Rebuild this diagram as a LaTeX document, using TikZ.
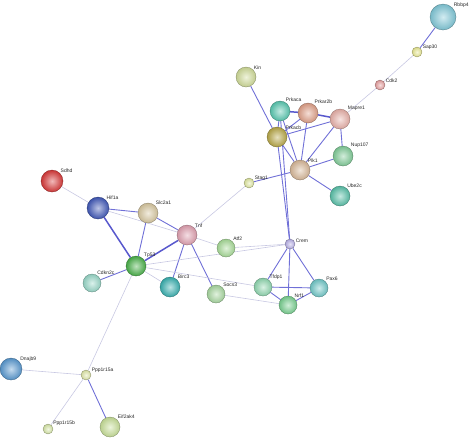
\documentclass[tikz,border=0pt]{standalone}
\usepackage{fontspec}
\setmainfont{Liberation Sans}
\pgfdeclarelayer{bg}
\pgfsetlayers{bg,main}
% protein colours
\definecolor{cRbbp4}{HTML}{80C8D8}
\definecolor{cSap30}{HTML}{E8E890}
\definecolor{cCdk2}{HTML}{E8A0A0}
\definecolor{cMapre1}{HTML}{E8B0A8}
\definecolor{cPrkar2b}{HTML}{E0A088}
\definecolor{cPrkaca}{HTML}{58C8B0}
\definecolor{cPrkacb}{HTML}{B8A848}
\definecolor{cKin}{HTML}{D0DC98}
\definecolor{cNup107}{HTML}{80CC98}
\definecolor{cPlk1}{HTML}{D8B898}
\definecolor{cUbe2c}{HTML}{58C0A8}
\definecolor{cStag1}{HTML}{E0E8A0}
\definecolor{cSdhd}{HTML}{D83838}
\definecolor{cHif1a}{HTML}{4058B8}
\definecolor{cSlc2a1}{HTML}{D8C8A0}
\definecolor{cTnf}{HTML}{E0A0B0}
\definecolor{cAtf2}{HTML}{A8DC98}
\definecolor{cCrem}{HTML}{B8B0E8}
\definecolor{cTp53}{HTML}{48B048}
\definecolor{cCdkn2c}{HTML}{98D8C8}
\definecolor{cBirc3}{HTML}{38B0B0}
\definecolor{cSocs3}{HTML}{A8D8A0}
\definecolor{cTfdp1}{HTML}{90D8B0}
\definecolor{cPax6}{HTML}{70C8C8}
\definecolor{cNrf1}{HTML}{78D090}
\definecolor{cDnajb9}{HTML}{5898D0}
\definecolor{cPpp1r15a}{HTML}{E0E8A8}
\definecolor{cPpp1r15b}{HTML}{D8E8A8}
\definecolor{cEif2ak4}{HTML}{C8E098}
\definecolor{edgehi}{RGB}{88,88,205}
\definecolor{edgemid}{RGB}{112,112,215}
\definecolor{edgelo}{RGB}{200,200,226}
\tikzset{
  prot/.style={circle,inner sep=0pt,shading=radial,inner color=#1!35!white,
    outer color=#1!92!black,draw=#1!60!black,line width=0.3pt},
  sz/.style={minimum size=#1},
  lbl/.style={font=\fontsize{5}{6}\selectfont,inner sep=0.6pt,text=black!85},
  linkhi/.style={draw=edgehi,line width=1.5pt},
  linkmid/.style={draw=edgemid,line width=0.9pt},
  linklo/.style={draw=edgelo,line width=0.6pt}
}
\begin{document}
\begin{tikzpicture}[x=1pt,y=-1pt]
\useasboundingbox (0,0) rectangle (474,440);
% proteins
\foreach \n/\x/\y/\d/\a in {
  Rbbp4/443/17/26/40, Sap30/417/52/10/15, Cdk2/380/85/10/15,
  Mapre1/340/119/20/45, Prkar2b/308/113/20/55, Prkaca/280/111/20/60,
  Prkacb/277/137/20/40, Kin/246/77/20/45, Nup107/343/156/20/45,
  Plk1/300/170/20/45, Ube2c/340/196/20/50, Stag1/249/183/10/15,
  Sdhd/52/181/22/45, Hif1a/98/208/22/45, Slc2a1/148/213/20/45,
  Tnf/187/235/20/45, Atf2/226/248/18/45, Crem/290/244/10/10,
  Tp53/136/266/20/45, Cdkn2c/92/283/18/60, Birc3/170/287/20/45,
  Socs3/216/294/18/45, Tfdp1/263/287/18/50, Pax6/319/288/18/45,
  Nrf1/288/305/18/50, Dnajb9/11/369/22/40, Ppp1r15a/86/375/10/15,
  Ppp1r15b/48/429/10/30, Eif2ak4/110/427/20/45}
  \node[prot=c\n,sz=\d,label={[lbl]\a:\n}] (\n) at (\x,\y) {};
% interactions
\begin{pgfonlayer}{bg}
\foreach \p/\q in {Prkaca/Prkar2b,Prkar2b/Mapre1,Hif1a/Tp53,Tnf/Tp53}
  \draw[linkhi] (\p) -- (\q);
\foreach \p/\q in {Rbbp4/Sap30,Kin/Prkacb,Prkaca/Prkacb,Prkar2b/Prkacb,Prkacb/Mapre1,
  Prkaca/Plk1,Prkar2b/Plk1,Prkacb/Plk1,Mapre1/Plk1,Mapre1/Nup107,Plk1/Nup107,
  Plk1/Ube2c,Plk1/Stag1,Prkacb/Crem,Prkaca/Crem,Hif1a/Slc2a1,Slc2a1/Tnf,Slc2a1/Tp53,
  Tnf/Birc3,Tnf/Socs3,Tp53/Cdkn2c,Crem/Tfdp1,Crem/Pax6,Crem/Nrf1,Tfdp1/Pax6,
  Tfdp1/Nrf1,Nrf1/Pax6,Ppp1r15a/Eif2ak4}
  \draw[linkmid] (\p) -- (\q);
\foreach \p/\q in {Sap30/Cdk2,Cdk2/Mapre1,Stag1/Tnf,Sdhd/Hif1a,Hif1a/Tnf,Tnf/Atf2,
  Tp53/Birc3,Tp53/Crem,Tp53/Tfdp1,Tp53/Ppp1r15a,Atf2/Crem,Socs3/Nrf1,
  Ppp1r15a/Dnajb9,Ppp1r15a/Ppp1r15b}
  \draw[linklo] (\p) -- (\q);
\end{pgfonlayer}
\end{tikzpicture}
\end{document}
